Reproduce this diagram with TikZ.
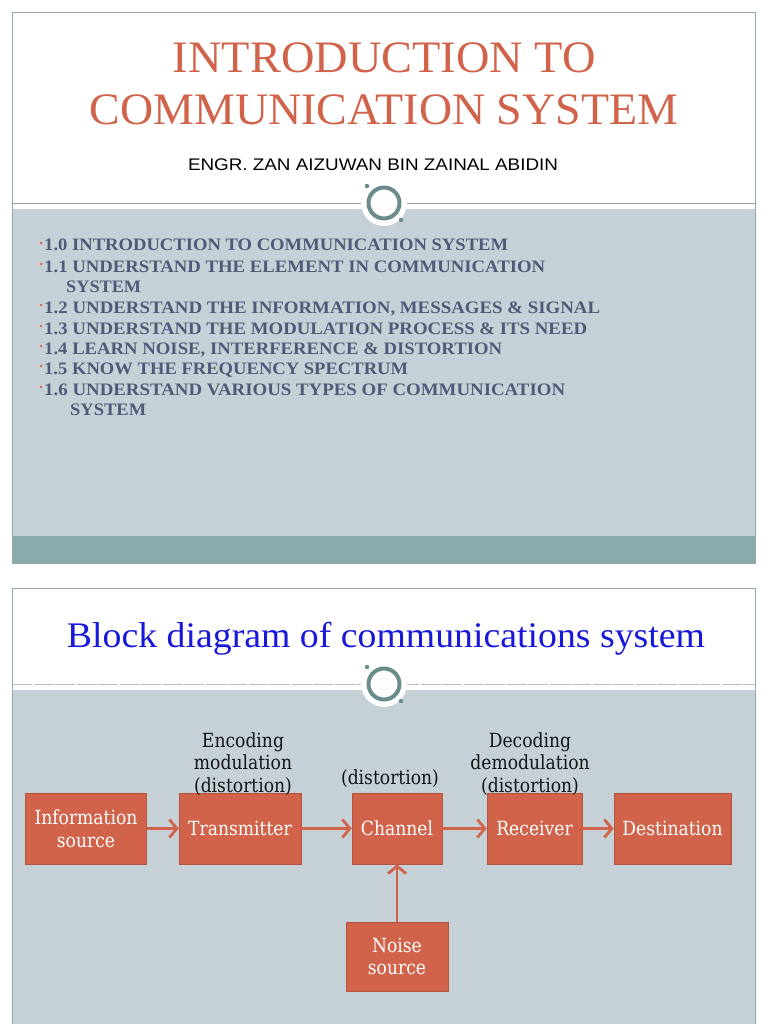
\documentclass[tikz,border=0pt]{standalone}
\usepackage{fontspec}
\usepackage{graphicx}
\usetikzlibrary{arrows.meta}
\setmainfont{Liberation Serif}
\newfontfamily\lserif{Liberation Serif}
\newfontfamily\dgserif[FakeStretch=0.88]{DejaVu Serif}
\newfontfamily\lsans{Liberation Sans}
\newcommand{\fitw}[2]{\resizebox{#1}{\height}{#2}}
\definecolor{coral}{RGB}{208,99,74}
\definecolor{boxborder}{RGB}{180,84,62}
\definecolor{slidebg}{RGB}{197,209,215}
\definecolor{tealband}{RGB}{138,171,171}
\definecolor{ringcol}{RGB}{108,140,140}
\definecolor{framecol}{RGB}{145,168,168}
\definecolor{sepcol}{RGB}{150,160,160}
\definecolor{bullettext}{RGB}{80,90,120}
\definecolor{bulletdot}{RGB}{222,92,82}
\definecolor{titleblue}{RGB}{24,24,218}
\definecolor{labeltext}{RGB}{20,20,20}
\begin{document}
\begin{tikzpicture}[x=1pt,y=-1pt,
  blockbox/.style={draw=boxborder, line width=0.6pt, fill=coral, text=white,
    align=center, inner sep=0pt, minimum height=71pt,
    font=\dgserif\fontsize{19.5}{22.5}\selectfont},
  lbl/.style={align=center, inner sep=0pt, text=labeltext,
    font=\dgserif\fontsize{19.5}{22.5}\selectfont},
  flowarrow/.style={draw=coral, line width=2.8pt,
    -{Straight Barb[length=7.5pt,width=18pt]}},
  bullettxt/.style={anchor=base west, inner sep=0pt, text=bullettext},
  ringstyle/.style={draw=ringcol, line width=4pt}]
\useasboundingbox (0,0) rectangle (768,1024);
\fill[white] (0,0) rectangle (768,1024);

% ---------- slide 1 ----------
\fill[slidebg] (12,209) rectangle (755,536);
\fill[tealband] (12,536) rectangle (755,563);
\draw[sepcol, line width=0.8pt] (12,203) -- (755,203);
\draw[framecol, line width=0.8pt] (12,12) rectangle (755,563);
\fill[white] (384,203) circle (23);
\draw[ringstyle] (384,203) circle (15.5);
\fill[ringcol] (367,186) circle (2.2);
\fill[ringcol] (401,220) circle (2.2);

\node[anchor=base, inner sep=0pt, text=coral] (t1) at (384.5,73)
  {\fitw{423pt}{\lserif\fontsize{45}{45}\selectfont INTRODUCTION TO}};
\node[anchor=base, inner sep=0pt, text=coral] (t2) at (384,124.5)
  {\fitw{588pt}{\lserif\fontsize{45}{45}\selectfont COMMUNICATION SYSTEM}};
\node[anchor=base, inner sep=0pt] (sub) at (373,171)
  {\fitw{370pt}{\lsans\fontsize{16.8}{17}\selectfont ENGR. ZAN AIZUWAN BIN ZAINAL ABIDIN}};

\node[bullettxt] (b1) at (44,251) {\fitw{464pt}{\bfseries\fontsize{17.5}{18}\selectfont 1.0 INTRODUCTION TO COMMUNICATION SYSTEM}};
\node[bullettxt] (b2) at (44,272) {\fitw{501pt}{\bfseries\fontsize{17.5}{18}\selectfont 1.1 UNDERSTAND THE ELEMENT IN COMMUNICATION}};
\node[bullettxt] (b2b) at (66,292) {\fitw{75pt}{\bfseries\fontsize{17.5}{18}\selectfont SYSTEM}};
\node[bullettxt] (b3) at (44,313) {\fitw{556pt}{\bfseries\fontsize{17.5}{18}\selectfont 1.2 UNDERSTAND THE INFORMATION, MESSAGES \& SIGNAL}};
\node[bullettxt] (b4) at (44,334) {\fitw{543pt}{\bfseries\fontsize{17.5}{18}\selectfont 1.3 UNDERSTAND THE MODULATION PROCESS \& ITS NEED}};
\node[bullettxt] (b5) at (44,354) {\fitw{458pt}{\bfseries\fontsize{17.5}{18}\selectfont 1.4 LEARN NOISE, INTERFERENCE \& DISTORTION}};
\node[bullettxt] (b6) at (44,374) {\fitw{364pt}{\bfseries\fontsize{17.5}{18}\selectfont 1.5 KNOW THE FREQUENCY SPECTRUM}};
\node[bullettxt] (b7) at (44,395) {\fitw{521pt}{\bfseries\fontsize{17.5}{18}\selectfont 1.6 UNDERSTAND VARIOUS TYPES OF COMMUNICATION}};
\node[bullettxt] (b7b) at (70,415) {\fitw{76pt}{\bfseries\fontsize{17.5}{18}\selectfont SYSTEM}};
\foreach \yy in {251,272,313,334,354,374,395}
  \fill[bulletdot] (41,\yy-8) circle (1.3);

% ---------- slide 2 ----------
\fill[slidebg] (12,690) rectangle (755,1024);
\draw[sepcol!70, line width=0.8pt, dash pattern=on 20pt off 1.5pt] (12,684) -- (755,684);
\draw[framecol, line width=0.8pt] (12,1030) -- (12,588) -- (755,588) -- (755,1030);
\fill[white] (384,684) circle (23);
\draw[ringstyle] (384,684) circle (15.5);
\fill[ringcol] (367,667) circle (2.2);
\fill[ringcol] (401,701) circle (2.2);

\node[anchor=base, inner sep=0pt, text=titleblue] (t3) at (386,647)
  {\fitw{638pt}{\lserif\fontsize{36}{36}\selectfont Block diagram of communications system}};

\node[blockbox, minimum width=121pt] (info) at (86,828.5) {Information\\source};
\node[blockbox, minimum width=122pt] (trans) at (240,828.5) {Transmitter};
\node[blockbox, minimum width=90pt] (chan) at (397,828.5) {Channel};
\node[blockbox, minimum width=95pt] (recv) at (534.5,828.5) {Receiver};
\node[blockbox, minimum width=117pt] (dest) at (672.5,828.5) {Destination};
\node[blockbox, minimum width=102pt, minimum height=69pt,
  font=\dgserif\fontsize{19.5}{21.5}\selectfont] (noise) at (397,956.5) {Noise\\source};

\node[lbl] (enc) at (243,764) {Encoding\\modulation\\(distortion)};
\node[lbl] (dist) at (390,779) {(distortion)};
\node[lbl] (dec) at (530,764) {Decoding\\demodulation\\(distortion)};

\draw[flowarrow] (info) -- (trans);
\draw[flowarrow] (trans) -- (chan);
\draw[flowarrow] (chan) -- (recv);
\draw[flowarrow] (recv) -- (dest);
\draw[flowarrow] (noise) -- (chan);
\end{tikzpicture}
\end{document}
